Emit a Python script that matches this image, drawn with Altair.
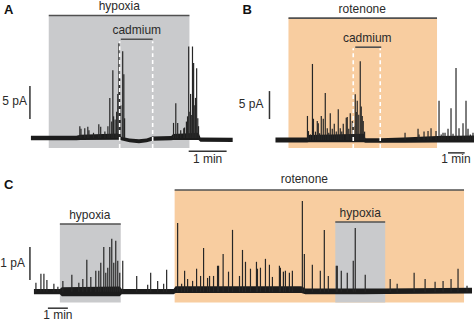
import altair as alt
import pandas as pd

FONT = "Liberation Sans"
GRAY = "#c9cacc"
ORANGE = "#f8cda0"
INK = "#1c1c1c"
SPIKE = "#262626"
BAR = "#505050"

# ---------------- Panel A : hypoxia + cadmium (time in min, current in pA)
A_spike_t = [1.29, 1.32, 1.42, 1.50, 1.53, 1.65, 1.79, 1.84, 1.95, 2.03, 2.08, 2.13, 2.16, 2.18, 2.22,
             2.26, 2.29, 2.32, 2.34, 2.37, 2.42, 2.45, 2.47, 3.76, 3.82, 3.87, 3.95, 4.03, 4.05, 4.10,
             4.13, 4.16, 4.19, 4.21, 4.24, 4.26, 4.29, 4.32, 4.34, 4.37, 4.40, 4.42]
A_spike_amp = [1.8, 1.4, 1.5, 1.7, 1.2, 0.8, 2.1, 1.7, 1.0, 1.8, 6.1, 2.5, 10.3, 3.3, 2.8,
               4.0, 6.7, 14.4, 9.0, 5.0, 13.2, 9.7, 3.0, 2.3, 5.3, 2.3, 1.2, 1.5, 1.6, 2.5,
               3.3, 13.9, 4.0, 6.7, 3.5, 13.9, 11.4, 5.0, 6.1, 10.6, 3.0, 1.8]
A_env_t = [0, 1.2, 1.3, 2.3, 2.38, 2.6, 2.85, 3.05, 3.2, 3.7, 3.75, 4.42, 4.47, 5.32]
A_env_lo = [-0.35, -0.35, -0.3, -0.25, -0.35, -0.65, -0.8, -0.65, -0.4, -0.35, -0.3, -0.3, -0.55, -0.6]
A_env_hi = [0.35, 0.35, 0.5, 0.7, 0.2, -0.05, -0.2, -0.05, 0.25, 0.3, 0.6, 0.8, 0.1, 0.05]
A_events = ["hypoxia", "cadmium"]
A_event_start = [0.47, 2.37]
A_event_end = [4.18, 3.21]
A_cad_lines = [2.34, 3.21]

# ---------------- Panel B : rotenone + cadmium
B_spike_t = [1.92, 1.98, 2.10, 2.22, 2.28, 2.40, 2.51, 2.57, 2.65, 2.75, 2.87, 2.99, 3.11, 3.20, 3.29,
             3.41, 3.53, 3.65, 3.77, 3.89, 3.98, 4.07, 4.25, 4.31, 4.40, 4.49, 4.61, 4.70, 4.79, 4.85,
             4.91, 5.00, 5.09, 5.15, 5.21, 5.27, 5.35, 7.78, 8.56, 8.62, 8.92, 9.16, 9.34, 9.64, 9.82,
             9.95, 10.06, 10.18, 10.36, 10.54, 10.66, 10.84, 11.02, 11.26, 11.44, 11.56, 11.70, 11.86]
B_spike_amp = [4.3, 1.6, 1.0, 13.6, 3.8, 1.5, 3.4, 3.0, 1.2, 4.3, 3.8, 8.4, 2.1, 1.3, 4.8,
               2.0, 2.9, 1.5, 5.5, 2.1, 1.5, 2.9, 4.0, 4.1, 2.0, 4.8, 3.4, 2.5, 8.2, 5.0,
               7.0, 4.5, 14.1, 6.0, 4.3, 3.4, 1.5, 1.3, 2.0, 1.0, 1.5, 1.6, 2.1, 1.6, 7.0,
               1.0, 1.3, 1.3, 2.0, 5.7, 1.1, 12.9, 2.1, 3.0, 7.0, 2.0, 1.0, 1.3]
B_env_t = [0, 1.0, 1.9, 2.0, 5.3, 5.4, 6.3, 7.7, 9.7, 11.92]
B_env_lo = [-0.45, -0.45, -0.45, -0.4, -0.4, -0.5, -0.5, -0.5, -0.45, -0.45]
B_env_hi = [0.45, 0.45, 0.45, 0.9, 1.1, 0.3, 0.3, 0.45, 0.7, 0.8]
B_events = ["rotenone", "cadmium"]
B_event_start = [0.78, 4.79]
B_event_end = [9.70, 6.35]
B_cad_lines = [4.67, 6.29]

# ---------------- Panel C : hypoxia, rotenone, hypoxia during rotenone
C_spike_t = [0.1, 0.35, 0.5, 0.65, 1.0, 1.2, 1.45, 1.9, 2.25, 2.45, 2.65, 2.85, 3.1, 3.25, 3.35,
             3.5, 3.6, 3.7, 3.8, 3.9, 4.0, 4.1, 4.2, 4.3, 4.45, 5.15, 5.7, 5.85, 6.2, 6.5,
             6.65, 7.2, 7.4, 7.55, 7.7, 7.95, 8.15, 8.35, 8.5, 8.7, 8.8, 9.0, 9.2, 9.25, 9.48,
             9.75, 9.95, 10.3, 10.45, 10.6, 10.85, 11.15, 11.2, 11.35, 11.6, 11.8, 11.95, 12.3, 12.35, 12.5,
             12.6, 12.8, 12.95, 13.45, 13.55, 13.95, 14.35, 14.55, 14.75, 15.15, 15.2, 15.4, 15.7, 16.0, 16.1,
             16.6, 17.85, 18.2, 19.05, 19.6, 20.1, 20.5, 20.9, 21.25, 21.7]
C_spike_amp = [0.27, 0.55, 0.55, 0.36, 0.24, 0.15, 0.33, 0.52, 0.27, 0.39, 0.97, 0.45, 0.64, 0.64, 0.88,
               1.36, 0.58, 0.73, 1.36, 1.61, 0.88, 1.55, 0.94, 0.58, 0.94, 0.48, 0.21, 0.58, 0.33, 0.24,
               0.67, 2.09, 0.24, 0.64, 0.39, 0.33, 0.70, 0.48, 1.33, 0.42, 0.48, 0.48, 0.79, 0.79, 1.15,
               0.61, 1.88, 0.48, 1.27, 0.91, 0.70, 0.91, 0.70, 0.73, 1.0, 0.82, 0.45, 0.79, 0.73, 0.61,
               0.64, 0.58, 0.64, 2.76, 1.15, 0.82, 0.64, 1.88, 0.48, 0.79, 0.79, 0.64, 0.58, 0.94, 1.94,
               0.52, 0.39, 0.24, 0.58, 0.39, 0.30, 0.33, 0.39, 0.70, 0.18]
C_env_t = [0, 1.3, 1.4, 4.3, 4.4, 7.0, 7.1, 13.4, 13.6, 16.5, 17.6, 21.95]
C_env_lo = [-0.08, -0.08, -0.14, -0.14, -0.08, -0.08, -0.04, -0.04, -0.08, -0.08, -0.07, -0.05]
C_env_hi = [0.08, 0.08, 0.14, 0.16, 0.08, 0.08, 0.17, 0.17, 0.1, 0.1, 0.1, 0.12]
C_events = ["hypoxia", "rotenone", "hypoxia"]
C_event_start = [1.3, 7.05, 15.1]
C_event_end = [4.35, 21.55, 17.6]


def panel(w, h, xdom, ydom, rects, bars, clabels, rlabels, env, spikes, dashes,
          vbar, hbar, letter, letter_xy, spike_w):
    xs = alt.Scale(domain=xdom, nice=False, zero=False)
    ys = alt.Scale(domain=ydom, nice=False, zero=False)

    def X(f):
        return alt.X(f, type="quantitative", scale=xs, axis=None)

    def Y(f):
        return alt.Y(f, type="quantitative", scale=ys, axis=None)

    layers = []
    layers.append(alt.Chart(pd.DataFrame(rects)).mark_rect().encode(
        x=X("t0"), x2="t1", y=Y("lo"), y2="hi",
        color=alt.Color("c:N", scale=None)))
    layers.append(alt.Chart(pd.DataFrame(bars)).mark_rule(color=BAR, strokeWidth=1.6).encode(
        x=X("t0"), x2="t1", y=Y("y")))
    layers.append(alt.Chart(pd.DataFrame(env)).mark_area(color=INK, interpolate="linear").encode(
        x=X("t"), y=Y("lo"), y2="hi"))
    layers.append(alt.Chart(pd.DataFrame(spikes)).mark_rule(color=SPIKE, strokeWidth=spike_w).encode(
        x=X("t"), y=Y("base"), y2="amp"))
    if dashes:
        layers.append(alt.Chart(pd.DataFrame(dashes)).mark_rule(
            color="white", strokeWidth=1.6, strokeDash=[4, 3]).encode(
            x=X("t"), y=Y("y0"), y2="y1"))
    layers.append(alt.Chart(pd.DataFrame(vbar)).mark_rule(color="#333", strokeWidth=1.5).encode(
        x=X("t"), y=Y("y0"), y2="y1"))
    layers.append(alt.Chart(pd.DataFrame(hbar)).mark_rule(color="#333", strokeWidth=1.5).encode(
        x=X("t0"), x2="t1", y=Y("y")))
    layers.append(alt.Chart(pd.DataFrame(clabels)).mark_text(
        font=FONT, fontSize=12, color="#2a2a2a", align="center", baseline="middle").encode(
        x=X("t"), y=Y("y"), text="s:N"))
    layers.append(alt.Chart(pd.DataFrame(rlabels)).mark_text(
        font=FONT, fontSize=12, color="#2a2a2a", align="right", baseline="middle").encode(
        x=X("t"), y=Y("y"), text="s:N"))
    layers.append(alt.Chart(pd.DataFrame({"s": [letter]})).mark_text(
        font=FONT, fontSize=13, fontWeight="bold", color="#111", align="left", baseline="middle").encode(
        x=alt.value(letter_xy[0]), y=alt.value(letter_xy[1]), text="s:N"))
    return alt.layer(*layers).properties(width=w, height=h)


# ---- A
chartA = panel(
    237, 170, [-0.789, 5.447], [-5.0, 20.76],
    rects={"t0": [A_event_start[0]], "t1": [A_event_end[0]], "lo": [-1.5], "hi": [18.6], "c": [GRAY]},
    bars={"t0": A_event_start, "t1": A_event_end, "y": [18.6, 15.0]},
    clabels={"t": [2.33, 2.79, 4.66], "y": [20.0, 16.4, -3.2], "s": A_events + ["1 min"]},
    rlabels={"t": [-0.105], "y": [5.6], "s": ["5 pA"]},
    env={"t": A_env_t, "lo": A_env_lo, "hi": A_env_hi},
    spikes={"t": A_spike_t, "amp": A_spike_amp, "base": [0.0] * len(A_spike_t)},
    dashes={"t": A_cad_lines, "y0": [-1.5, -1.5], "y1": [14.7, 14.7]},
    vbar={"t": [-0.026], "y0": [2.9], "y1": [7.9]},
    hbar={"t0": [4.16], "t1": [5.16], "y": [-2.0]},
    letter="A", letter_xy=(3, 9), spike_w=1.2)

# ---- B
chartB = panel(
    237, 170, [-2.28, 11.92], [-5.54, 24.8],
    rects={"t0": [B_event_start[0]], "t1": [B_event_end[0]], "lo": [-1.43], "hi": [21.8], "c": [ORANGE]},
    bars={"t0": B_event_start, "t1": B_event_end, "y": [21.8, 16.6]},
    clabels={"t": [5.21, 5.51, 10.84], "y": [23.4, 18.2, -3.4], "s": B_events + ["1 min"]},
    rlabels={"t": [-0.72], "y": [6.4], "s": ["5 pA"]},
    env={"t": B_env_t, "lo": B_env_lo, "hi": B_env_hi},
    spikes={"t": B_spike_t, "amp": B_spike_amp, "base": [0.0] * len(B_spike_t)},
    dashes={"t": B_cad_lines, "y0": [-1.43, -1.43], "y1": [16.4, 16.4]},
    vbar={"t": [-0.36], "y0": [3.75], "y1": [8.75]},
    hbar={"t0": [10.36], "t1": [11.36], "y": [-2.3]},
    letter="B", letter_xy=(5, 9), spike_w=1.2)

# ---- C
chartC = panel(
    474, 153, [-1.65, 22.05], [-0.97, 3.67],
    rects={"t0": [C_event_start[1], C_event_start[0], C_event_start[2]],
           "t1": [C_event_end[1], C_event_end[0], C_event_end[2]],
           "lo": [-0.33, -0.33, -0.33], "hi": [3.09, 2.06, 2.12], "c": [ORANGE, GRAY, GRAY]},
    bars={"t0": C_event_start, "t1": C_event_end, "y": [2.06, 3.09, 2.12]},
    clabels={"t": [2.8, 13.55, 16.35, 1.2], "y": [2.34, 3.42, 2.39, -0.72], "s": C_events + ["1 min"]},
    rlabels={"t": [-0.45], "y": [0.88], "s": ["1 pA"]},
    env={"t": C_env_t, "lo": C_env_lo, "hi": C_env_hi},
    spikes={"t": C_spike_t, "amp": C_spike_amp, "base": [0.0] * len(C_spike_t)},
    dashes=None,
    vbar={"t": [-0.2], "y0": [0.36], "y1": [1.36]},
    hbar={"t0": [0.7], "t1": [1.7], "y": [-0.5]},
    letter="C", letter_xy=(3, 14), spike_w=1.2)

chart = alt.vconcat(
    alt.hconcat(chartA, chartB, spacing=0),
    chartC, spacing=0
).properties(padding=0).configure_view(stroke=None).configure_concat(spacing=0)

chart.save("out.html", embed_options={"renderer": "svg", "actions": False})
